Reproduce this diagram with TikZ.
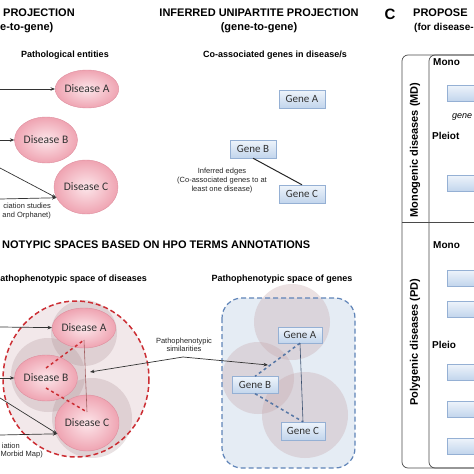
\documentclass[tikz,border=0pt]{standalone}
\usepackage{fontspec}
\setmainfont{Liberation Sans}
\newfontfamily\boxfont{Carlito}
\usepackage{tikz}
\usetikzlibrary{shapes,arrows.meta}

\definecolor{diseaseIn}{HTML}{FCE6EA}
\definecolor{diseaseOut}{HTML}{EFA4B2}
\definecolor{diseaseLine}{HTML}{DE8E9E}
\definecolor{geneTop}{HTML}{EEF4FB}
\definecolor{geneBot}{HTML}{C2D5EC}
\definecolor{geneLine}{HTML}{95B0D4}
\definecolor{spaceRed}{HTML}{CC2E34}
\definecolor{spaceRedFill}{HTML}{F2E8EA}
\definecolor{spaceBlue}{HTML}{5F84B8}
\definecolor{spaceBlueFill}{HTML}{E5ECF4}
\definecolor{blobDis}{HTML}{A88A8F}
\definecolor{blobGene}{HTML}{C6A8AD}
\definecolor{frameGray}{HTML}{4A4A4A}

\begin{document}
\begin{tikzpicture}[x=1pt,y=-1pt,
  link/.style={-{Stealth[length=4.5pt,width=3.5pt]},draw=black!80,line width=0.7pt},
  disease/.style={ellipse,draw=diseaseLine,inner color=diseaseIn,outer color=diseaseOut,inner sep=0,text=black!80,node font=\boxfont\fontsize{11.5}{12}\selectfont},
  gene/.style={rectangle,draw=geneLine,top color=geneTop,bottom color=geneBot,minimum width=46,minimum height=18,inner sep=0,text=black!80,node font=\boxfont\fontsize{11}{12}\selectfont},
  slot/.style={rectangle,draw=geneLine,top color=geneTop,bottom color=geneBot,minimum width=40,minimum height=16,anchor=west},
  heading/.style={inner sep=0,node font=\bfseries\fontsize{11}{13}\selectfont},
  subhead/.style={inner sep=0,node font=\bfseries\fontsize{9}{11}\selectfont},
  note/.style={inner sep=0,align=center,text=black!85,node font=\fontsize{7.5}{9}\selectfont},
  sideText/.style={inner sep=0,rotate=90,node font=\bfseries\fontsize{11}{13}\selectfont},
  redLink/.style={draw=spaceRed,dashed,line width=1.5pt},
  blueLink/.style={draw=spaceBlue!90!black,dashed,line width=1.5pt}]

  \useasboundingbox (0,0) rectangle (474,474);
  \clip (0,0) rectangle (474,474);

  % headings
  \node[heading,anchor=west] (titleBip)    at (3,13)   {PROJECTION};
  \node[heading,anchor=west] (titleBipSub) at (0,28)   {e-to-gene)};
  \node[heading]             (titleUni)    at (259,13) {INFERRED UNIPARTITE PROJECTION};
  \node[heading]             (titleUniSub) at (259,28) {(gene-to-gene)};
  \node[inner sep=0,node font=\bfseries\fontsize{15}{15}\selectfont] (panelC) at (390,14) {C};
  \node[heading,anchor=west] (titleC)      at (413,13) {PROPOSE};
  \node[inner sep=0,anchor=west,node font=\bfseries\fontsize{10}{12}\selectfont] (titleCSub) at (414,28) {(for disease-};
  \node[heading,anchor=west] (titleSpaces) at (2,245)  {NOTYPIC SPACES BASED ON HPO TERMS ANNOTATIONS};

  \node[subhead]              (subPath)     at (65,55)   {Pathological entities};
  \node[subhead]              (subCoassoc)  at (275,55)  {Co-associated genes in disease/s};
  \node[subhead,anchor=east]  (subSpaceDis) at (147,279) {athophenotypic space of diseases};
  \node[subhead]              (subSpaceGen) at (282,279) {Pathophenotypic space of genes};

  % bipartite projection
  \node[disease,minimum width=50,minimum height=38] (diseaseA) at (87,89)  {Disease A};
  \node[disease,minimum width=52,minimum height=46] (diseaseB) at (46,140) {Disease B};
  \node[disease,minimum width=64,minimum height=54] (diseaseC) at (86,187) {Disease C};

  \coordinate (entryA)  at (0,89);
  \coordinate (entryB)  at (0,140);
  \coordinate (entryC1) at (0,168);
  \coordinate (entryC2) at (0,199);
  \draw[link] (entryA)  -- (diseaseA);
  \draw[link] (entryB)  -- (diseaseB);
  \draw[link] (entryC1) -- (diseaseC.200);
  \draw[link] (entryC2) -- (diseaseC.200);
  \node[note,anchor=north east,align=right] (assocTop) at (51,203) {ciation studies\\and Orphanet)};

  % unipartite projection
  \node[gene] (geneA) at (302,99)  {Gene A};
  \node[gene] (geneB) at (253,149) {Gene B};
  \node[gene] (geneC) at (302,194) {Gene C};
  \draw[black!85,line width=1pt] (geneB.south) -- (geneC.north);
  \node[note] (inferNote) at (222,181) {Inferred edges\\(Co-associated genes to at\\least one disease)};

  % pathophenotypic space of diseases
  \fill[spaceRedFill] (76,379) ellipse [x radius=73,y radius=78];
  \fill[blobDis,opacity=0.25] (84,333) circle (33);
  \fill[blobDis,opacity=0.25] (48,375) circle (37);
  \fill[blobDis,opacity=0.25] (92,418) circle (40);
  \draw[spaceRed,line width=1.5pt,dash pattern=on 5pt off 3pt] (76,379) ellipse [x radius=73,y radius=78];

  \node[disease,minimum width=46,minimum height=40] (diseaseSpcA) at (84,328) {Disease A};
  \node[disease,minimum width=52,minimum height=46] (diseaseSpcB) at (46,378) {Disease B};
  \node[disease,minimum width=64,minimum height=56] (diseaseSpcC) at (87,423) {Disease C};

  \draw[redLink] ([yshift=10pt]diseaseSpcB.center) -- ([yshift=-12pt]diseaseSpcA.center);
  \draw[redLink] ([yshift=-10pt]diseaseSpcB.center) -- ([yshift=11pt]diseaseSpcC.center);
  \draw[draw=spaceRed!60!black!70,line width=0.6pt] ([yshift=-12pt]diseaseSpcA.center) -- ([yshift=11pt]diseaseSpcC.center);

  \coordinate (entrySpcA)  at (0,327);
  \coordinate (entrySpcB)  at (0,378);
  \coordinate (entrySpcC1) at (0,398);
  \coordinate (entrySpcC2) at (0,435);
  \draw[link] (entrySpcA)  -- (diseaseSpcA);
  \draw[link] (entrySpcB)  -- (diseaseSpcB);
  \draw[link] (entrySpcC1) -- (diseaseSpcC.200);
  \draw[link] (entrySpcC2) -- (diseaseSpcC.200);
  \node[note,anchor=east] (assocSpc1) at (20,446) {iation};
  \node[note,anchor=east] (assocSpc2) at (43,455) {Morbid Map)};

  % pathophenotypic space of genes
  \fill[spaceBlueFill,rounded corners=20] (222,298) rectangle (355,468);
  \fill[blobGene,opacity=0.35] (292,322) circle (38);
  \fill[blobGene,opacity=0.35] (258,378) circle (36);
  \fill[blobGene,opacity=0.35] (305,415) circle (43);
  \draw[spaceBlue,line width=1.2pt,dash pattern=on 5pt off 3pt,rounded corners=20] (222,298) rectangle (355,468);

  \node[gene,minimum width=44,minimum height=16] (geneSpcA) at (300,335) {Gene A};
  \node[gene,minimum width=46,minimum height=17] (geneSpcB) at (255,385) {Gene B};
  \node[gene,minimum width=44,minimum height=18] (geneSpcC) at (303,431) {Gene C};

  \draw[blueLink] (geneSpcA.south) -- (geneSpcB.north);
  \draw[blueLink] (geneSpcB.south) -- (geneSpcC.north);
  \draw[draw=spaceBlue!60!black,line width=0.6pt] (geneSpcA.south) -- (geneSpcC.north);

  % similarities arrow
  \node[note,node font=\fontsize{7.5}{8.5}\selectfont] (simLabel) at (184,345) {Pathophenotypic\\similarities};
  \coordinate (simPeak)   at (183,357);
  \coordinate (spaceDis)  at (90,372);
  \coordinate (spaceGene) at (268,365);
  \draw[link] (simPeak) -- (spaceDis);
  \draw[link] (simPeak) -- (spaceGene);

  % proposed classification
  \draw[frameGray,line width=0.7pt,rounded corners=6] (402,55) rectangle (500,468);
  \draw[frameGray,line width=0.7pt,rounded corners=6] (429,55) rectangle (500,468);
  \draw[frameGray,line width=0.7pt] (402,222) -- (474,222);

  \node[sideText] (sideMD) at (415,150) {Monogenic diseases (MD)};
  \node[sideText] (sidePD) at (415,342) {Polygenic diseases (PD)};

  \node[inner sep=0,anchor=west,node font=\bfseries\fontsize{10}{12}\selectfont] (mdMono)  at (433,62)  {Mono};
  \node[inner sep=0,anchor=west,node font=\itshape\fontsize{9}{11}\selectfont]   (mdGene)  at (452,117) {gene};
  \node[inner sep=0,anchor=west,node font=\bfseries\fontsize{10}{12}\selectfont] (mdPleio) at (432,136) {Pleiot};
  \node[slot] (mdSlotA) at (447,93)  {};
  \node[slot] (mdSlotB) at (447,183) {};

  \node[inner sep=0,anchor=west,node font=\bfseries\fontsize{10}{12}\selectfont] (pdMono)  at (433,245) {Mono};
  \node[inner sep=0,anchor=west,node font=\bfseries\fontsize{10}{12}\selectfont] (pdPleio) at (432,345) {Pleio};
  \node[slot] (pdSlotA) at (447,278) {};
  \node[slot] (pdSlotB) at (447,309) {};
  \node[slot] (pdSlotC) at (447,372) {};
  \node[slot] (pdSlotD) at (447,409) {};
  \node[slot] (pdSlotE) at (447,446) {};
\end{tikzpicture}
\end{document}
